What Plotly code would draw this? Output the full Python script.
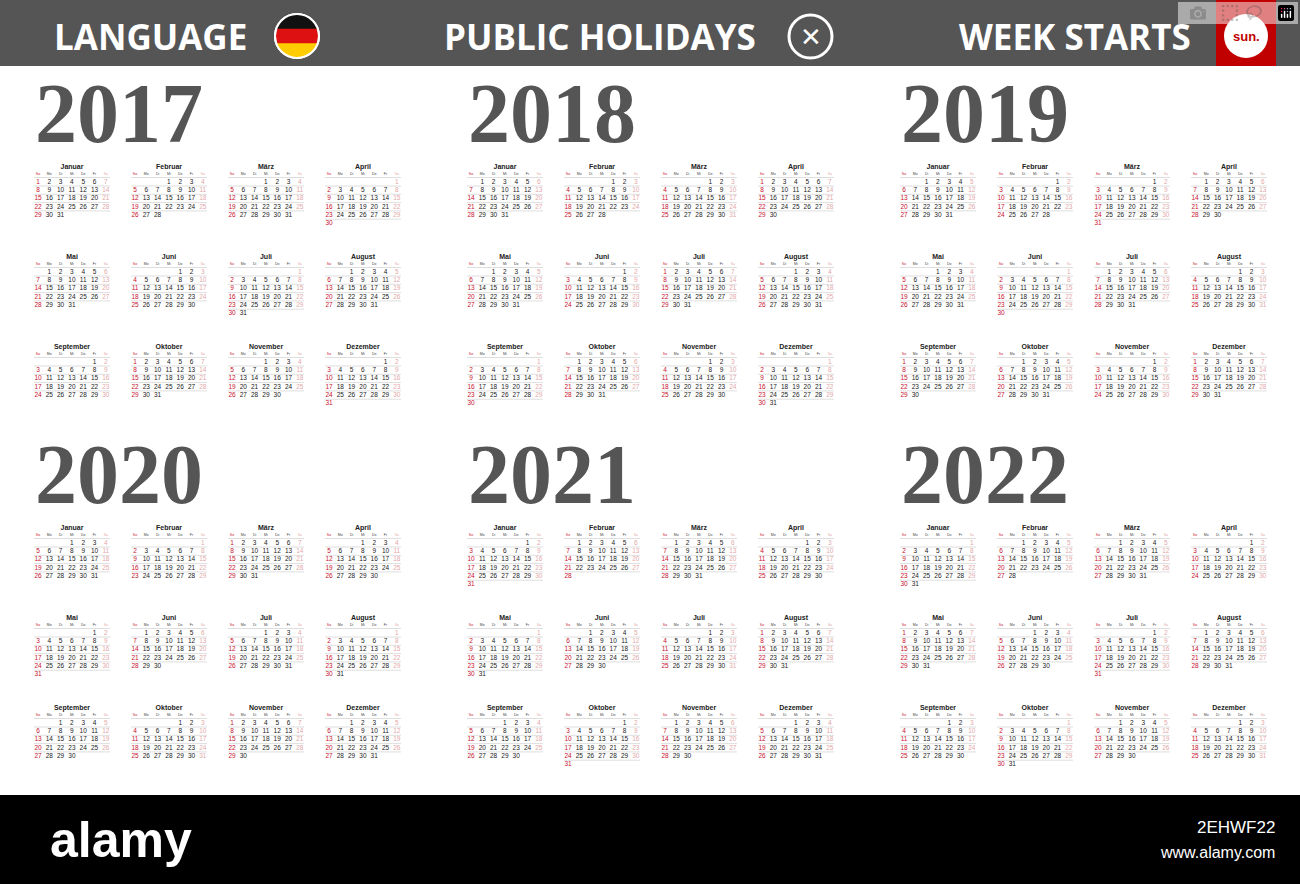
import numpy as np
import plotly.graph_objects as go

years = [2017, 2018, 2019, 2020, 2021, 2022]
month_names = ["Januar", "Februar", "März", "April", "Mai", "Juni", "Juli",
               "August", "September", "Oktober", "November", "Dezember"]
weekdays = ["So", "Mo", "Di", "Mi", "Do", "Fr", "Sa"]

# weekday of the 1st of each month (0 = Sunday), read from the calendars
first_weekday = {
    2017: [0, 3, 3, 6, 1, 4, 6, 2, 5, 0, 3, 5],
    2018: [1, 4, 4, 0, 2, 5, 0, 3, 6, 1, 4, 6],
    2019: [2, 5, 5, 1, 3, 6, 1, 4, 0, 2, 5, 0],
    2020: [3, 6, 0, 3, 5, 1, 3, 6, 2, 4, 0, 2],
    2021: [5, 1, 1, 4, 6, 2, 4, 0, 3, 5, 1, 3],
    2022: [6, 2, 2, 5, 0, 3, 5, 1, 4, 6, 2, 4],
}
month_days = {
    2017: [31, 28, 31, 30, 31, 30, 31, 31, 30, 31, 30, 31],
    2018: [31, 28, 31, 30, 31, 30, 31, 31, 30, 31, 30, 31],
    2019: [31, 28, 31, 30, 31, 30, 31, 31, 30, 31, 30, 31],
    2020: [31, 29, 31, 30, 31, 30, 31, 31, 30, 31, 30, 31],
    2021: [31, 28, 31, 30, 31, 30, 31, 31, 30, 31, 30, 31],
    2022: [31, 28, 31, 30, 31, 30, 31, 31, 30, 31, 30, 31],
}

RED = "#c8102e"
SAT = "#e3a8a8"
DARK = "#222222"
GREY = "#555555"

fig = go.Figure()

dx, dy, tx, tc = [], [], [], []
hx, hy, ht, hc = [], [], [], []
mx, my, mt = [], [], []
lx, ly = [], []

for yi, year in enumerate(years):
    bx = 33 + 433 * (yi % 3)
    by = 0 if yi < 3 else 361
    fig.add_annotation(x=bx, y=by + 113, text="<b>" + str(year) + "</b>", showarrow=False,
                       xanchor="left",
                       font=dict(family="Liberation Sans Narrow", size=84, color=GREY))
    for m in range(12):
        left = bx + 5 + 97 * (m % 4)
        top = by + 167 + 90 * (m // 4)
        mx.append(left + 34)
        my.append(top)
        mt.append("<b>" + month_names[m] + "</b>")
        for d in range(7):
            hx.append(left + d * 11.3)
            hy.append(top + 7)
            ht.append(weekdays[d])
            hc.append(RED if d == 0 else (SAT if d == 6 else "#444"))
        start = first_weekday[year][m]
        nrows = (start + month_days[year][m] + 6) // 7
        for day in range(1, month_days[year][m] + 1):
            pos = start + day - 1
            col, row = pos % 7, pos // 7
            dx.append(left + col * 11.3)
            dy.append(top + 15 + row * 8.3)
            tx.append(str(day))
            tc.append(RED if col == 0 else (SAT if col == 6 else DARK))
        for r in range(nrows - 1):
            yy = top + 19 + r * 8.3
            lx += [left - 4, left + 72, None]
            ly += [yy, yy, None]
        lx += [left - 4, left + 72, None]
        ly += [top + 10.5, top + 10.5, None]

fig.add_trace(go.Scatter(x=lx, y=ly, mode="lines", line=dict(color="#c8c8c8", width=0.6),
                         hoverinfo="skip"))
fig.add_trace(go.Scatter(x=mx, y=my, mode="text", text=mt,
                         textfont=dict(family="Liberation Sans", size=7, color=DARK), hoverinfo="skip"))
fig.add_trace(go.Scatter(x=hx, y=hy, mode="text", text=ht,
                         textfont=dict(family="Liberation Sans", size=3.5, color=hc), hoverinfo="skip"))
fig.add_trace(go.Scatter(x=dx, y=dy, mode="text", text=tx,
                         textfont=dict(family="Liberation Sans", size=6.5, color=tc), hoverinfo="skip"))

# header bar
fig.add_shape(type="rect", x0=0, x1=1300, y0=0, y1=66, fillcolor="#555555", line_width=0, layer="below")
fig.add_annotation(x=150, y=36, text="LANGUAGE", showarrow=False,
                   font=dict(family="Open Sans", size=35, color="white", weight="bold"))

# round German flag
cx, cy, rad = 297, 36, 22
fig.add_shape(type="circle", x0=cx - rad, x1=cx + rad, y0=cy - rad, y1=cy + rad,
              fillcolor="#dd1111", line=dict(color="white", width=2))
h = rad / 3
w = np.sqrt(rad ** 2 - h ** 2)
a = np.arcsin(h / rad)
for color, sign in [("#111111", -1), ("#ffcc00", 1)]:
    t = np.linspace(a, np.pi - a, 30)
    px = cx + rad * np.cos(t)
    py = cy + sign * rad * np.sin(t)
    path = "M " + " L ".join(f"{x:.2f},{y:.2f}" for x, y in zip(px, py)) + " Z"
    fig.add_shape(type="path", path=path, fillcolor=color, line_width=0)
fig.add_shape(type="circle", x0=cx - rad, x1=cx + rad, y0=cy - rad, y1=cy + rad,
              line=dict(color="white", width=2))

fig.add_annotation(x=600, y=36, text="PUBLIC HOLIDAYS", showarrow=False,
                   font=dict(family="Open Sans", size=35, color="white", weight="bold"))
fig.add_shape(type="circle", x0=789, x1=832, y0=15, y1=58, line=dict(color="white", width=3))
fig.add_annotation(x=810.5, y=37, text="✕", showarrow=False,
                   font=dict(family="DejaVu Sans", size=26, color="white"))
fig.add_annotation(x=1075, y=36, text="WEEK STARTS", showarrow=False,
                   font=dict(family="Open Sans", size=35, color="white", weight="bold"))
fig.add_shape(type="rect", x0=1216, x1=1276, y0=0, y1=66, fillcolor="#c00000", line_width=0)
fig.add_shape(type="circle", x0=1224, x1=1268, y0=14, y1=58, fillcolor="white", line_width=0)
fig.add_annotation(x=1246, y=36, text="<b>sun.</b>", showarrow=False,
                   font=dict(family="Liberation Sans", size=13, color="#c00000"))

# footer band
fig.add_shape(type="rect", x0=0, x1=1300, y0=795, y1=884, fillcolor="black", line_width=0)
fig.add_annotation(x=48, y=840, text="<b>alamy</b>", showarrow=False, xanchor="left",
                   font=dict(family="Liberation Sans", size=50, color="white"))
fig.add_annotation(x=1277, y=852, text="www.alamy.com", showarrow=False, xanchor="right",
                   font=dict(family="Liberation Sans", size=16, color="white"))
fig.add_annotation(x=1277, y=827, text="2EHWF22", showarrow=False, xanchor="right",
                   font=dict(family="Liberation Sans", size=17, color="white"))

fig.update_xaxes(range=[0, 1300], visible=False, fixedrange=True)
fig.update_yaxes(range=[884, 0], visible=False, fixedrange=True)
fig.update_layout(width=1300, height=884, margin=dict(l=0, r=0, t=0, b=0),
                  paper_bgcolor="white", plot_bgcolor="white", showlegend=False)
fig.write_html("out.html", post_script="document.body.style.margin='0';")
